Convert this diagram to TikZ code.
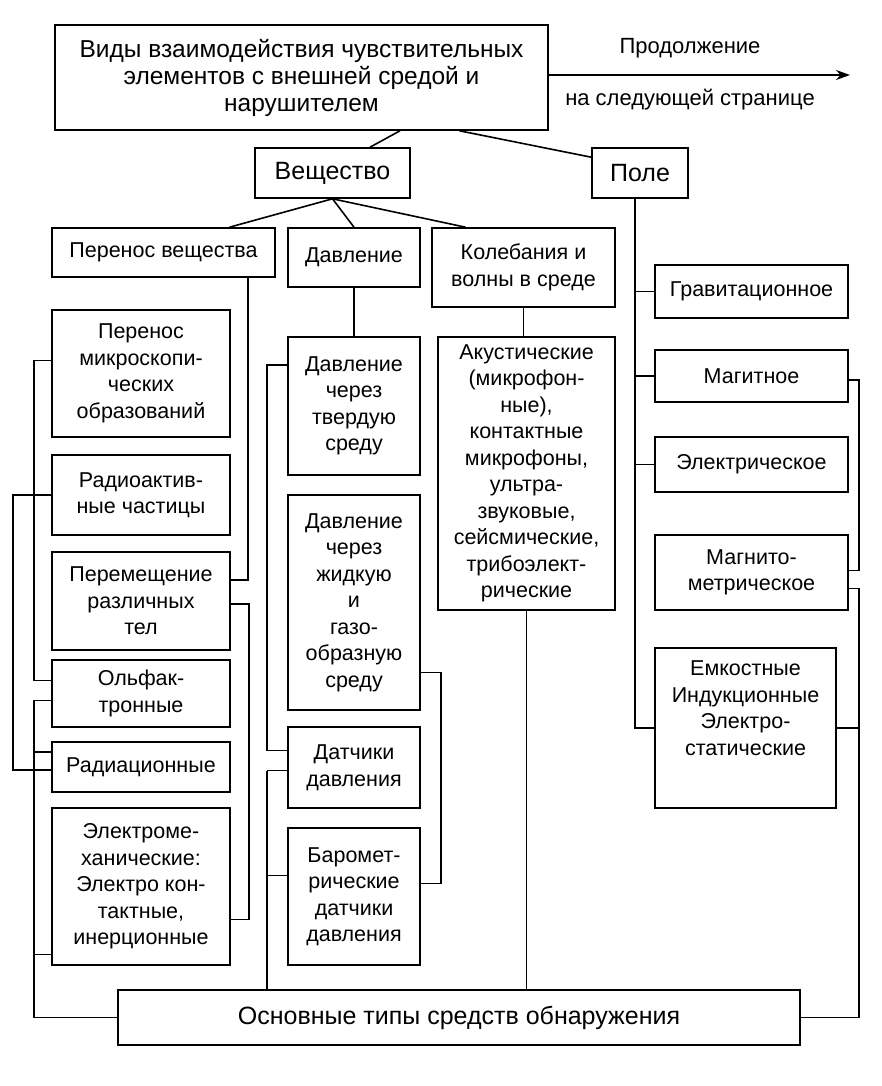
\documentclass[tikz,border=0pt]{standalone}
\usepackage{fontspec}
\setmainfont{Liberation Sans}
\usetikzlibrary{arrows.meta}
\begin{document}
\begin{tikzpicture}[x=1pt, y=-1pt, line width=1.6pt,
    box/.style={draw, align=center, inner sep=0pt, font=\fontsize{21.5}{26.5}\selectfont},
    big/.style={box, font=\fontsize{25}{30}\selectfont}]
  \useasboundingbox (0,0) rectangle (881,1086);
  % top row
  \node[big, minimum width=493, minimum height=105, font=\fontsize{24.5}{27}\selectfont] (top) at (301.5,77.5)
    {Виды взаимодействия чувствительных\\элементов с внешней средой и\\нарушителем};
  \node[font=\fontsize{22}{24}\selectfont] (cont) at (690,48) {Продолжение};
  \node[font=\fontsize{22}{24}\selectfont] (page) at (690,100) {на следующей странице};
  \coordinate (arr) at (850,75);
  \draw[-{Stealth[length=14pt,width=10pt]}] (top.east |- arr) -- (arr);
  \node[big, minimum width=155, minimum height=50] (vesh) at (332.5,173) {Вещество};
  \node[big, minimum width=96, minimum height=50] (pole) at (640,173) {Поле};
  % second row
  \node[box, minimum width=223, minimum height=49] (perv) at (163.5,252.5) {Перенос вещества};
  \node[box, minimum width=132, minimum height=59] (davl) at (354,257.5) {Давление};
  \node[box, minimum width=183, minimum height=79] (kol) at (523.5,267.5) {Колебания и\\волны в среде};
  % left column
  \node[box, minimum width=178, minimum height=127] (pmic) at (141,373.5) {Перенос\\микроскопи-\\ческих\\образований};
  \node[box, minimum width=178, minimum height=80] (rad) at (141,495) {Радиоактив-\\ные частицы};
  \node[box, minimum width=178, minimum height=98] (perem) at (141,601) {Перемещение\\различных\\тел};
  \node[box, minimum width=178, minimum height=67] (olf) at (141,693.5) {Ольфак-\\тронные};
  \node[box, minimum width=178, minimum height=50] (radc) at (141,767) {Радиационные};
  \node[box, minimum width=178, minimum height=157] (elm) at (141,886.5) {Электроме-\\ханические:\\Электро кон-\\тактные,\\инерционные};
  % middle column
  \node[box, minimum width=132, minimum height=138] (dtv) at (354,406) {Давление\\через\\твердую\\среду};
  \node[box, minimum width=132, minimum height=215] (dzh) at (354,602.5) {Давление\\через\\жидкую\\и\\газо-\\образную\\среду};
  \node[box, minimum width=132, minimum height=81] (dat) at (354,767.5) {Датчики\\давления};
  \node[box, minimum width=132, minimum height=137] (bar) at (354,896.5) {Баромет-\\рические\\датчики\\давления};
  \node[box, minimum width=177, minimum height=273] (ak) at (526.5,473.5) {Акустические\\(микрофон-\\ные),\\контактные\\микрофоны,\\ультра-\\звуковые,\\сейсмические,\\трибоэлект-\\рические};
  % right column
  \node[box, minimum width=193, minimum height=53] (grav) at (751.5,291.5) {Гравитационное};
  \node[box, minimum width=193, minimum height=52] (magn) at (751.5,376) {Магитное};
  \node[box, minimum width=193, minimum height=55] (elec) at (751.5,464.5) {Электрическое};
  \node[box, minimum width=193, minimum height=75] (magm) at (751.5,572.5) {Магнито-\\метрическое};
  \node[box, minimum width=181, minimum height=160, text depth=40pt] (emk) at (745.5,728) {Емкостные\\Индукционные\\Электро-\\статические};
  % bottom
  \node[box, minimum width=682, minimum height=55, font=\fontsize{25}{28}\selectfont] (main) at (459,1017.5) {Основные типы средств обнаружения};
  % connectors, top
  \draw ([xshift=98.5]top.south) -- ([xshift=37.5]vesh.north);
  \draw ([xshift=158]top.south) -- ([yshift=-10]pole.north west);
  \draw (vesh.south) -- ([xshift=66]perv.north);
  \draw (vesh.south) -- (davl.north);
  \draw (vesh.south) -- ([xshift=-58]kol.north);
  \draw (davl.south) -- (dtv.north);
  \draw (kol.south) -- (kol.south |- ak.north);
  \draw (ak.south) -- (ak.south |- main.north);
  % field branch
  \draw ([xshift=-5]pole.south) |- (emk.west);
  \draw ([xshift=-5]pole.south |- grav.west) -- (grav.west);
  \draw ([xshift=-5]pole.south |- magn.west) -- (magn.west);
  \draw ([xshift=-5]pole.south |- elec.west) -- (elec.west);
  \draw ([yshift=-4]magn.east) -- ++(10,0) |- ([yshift=2]magm.east);
  \draw ([yshift=-16]magm.east) -- ++(10,0) |- (main.east);
  \draw (emk.east) -- ++(22,0);
  % left branch
  \draw ([xshift=84.5]perv.south) |- ([yshift=21]perem.east);
  \draw ([yshift=-3]perem.east) -- ++(18,0) |- ([yshift=-33]elm.east);
  \draw ([yshift=13]pmic.west) -- ++(-17,0) |- ([yshift=13]olf.west);
  \draw (rad.west) -- ++(-38,0) |- ([yshift=-3]radc.west);
  \draw ([yshift=-7]olf.west) -- ++(-17,0) |- (main.west);
  \draw ([yshift=15]radc.west) -- ++(-17,0);
  \draw ([yshift=-68]elm.west) -- ++(-17,0);
  % pressure branch
  \draw ([yshift=41]dtv.west) -- ++(-20,0) |- ([yshift=17]dat.west);
  \draw ([yshift=-3]dat.west) -- ++(-20,0) coordinate (mb);
  \draw (mb) -- (mb |- main.north);
  \draw ([yshift=21]bar.west) -- ++(-20,0);
  \draw ([yshift=-70]dzh.east) -- ++(20,0) |- ([yshift=13]bar.east);
\end{tikzpicture}
\end{document}
